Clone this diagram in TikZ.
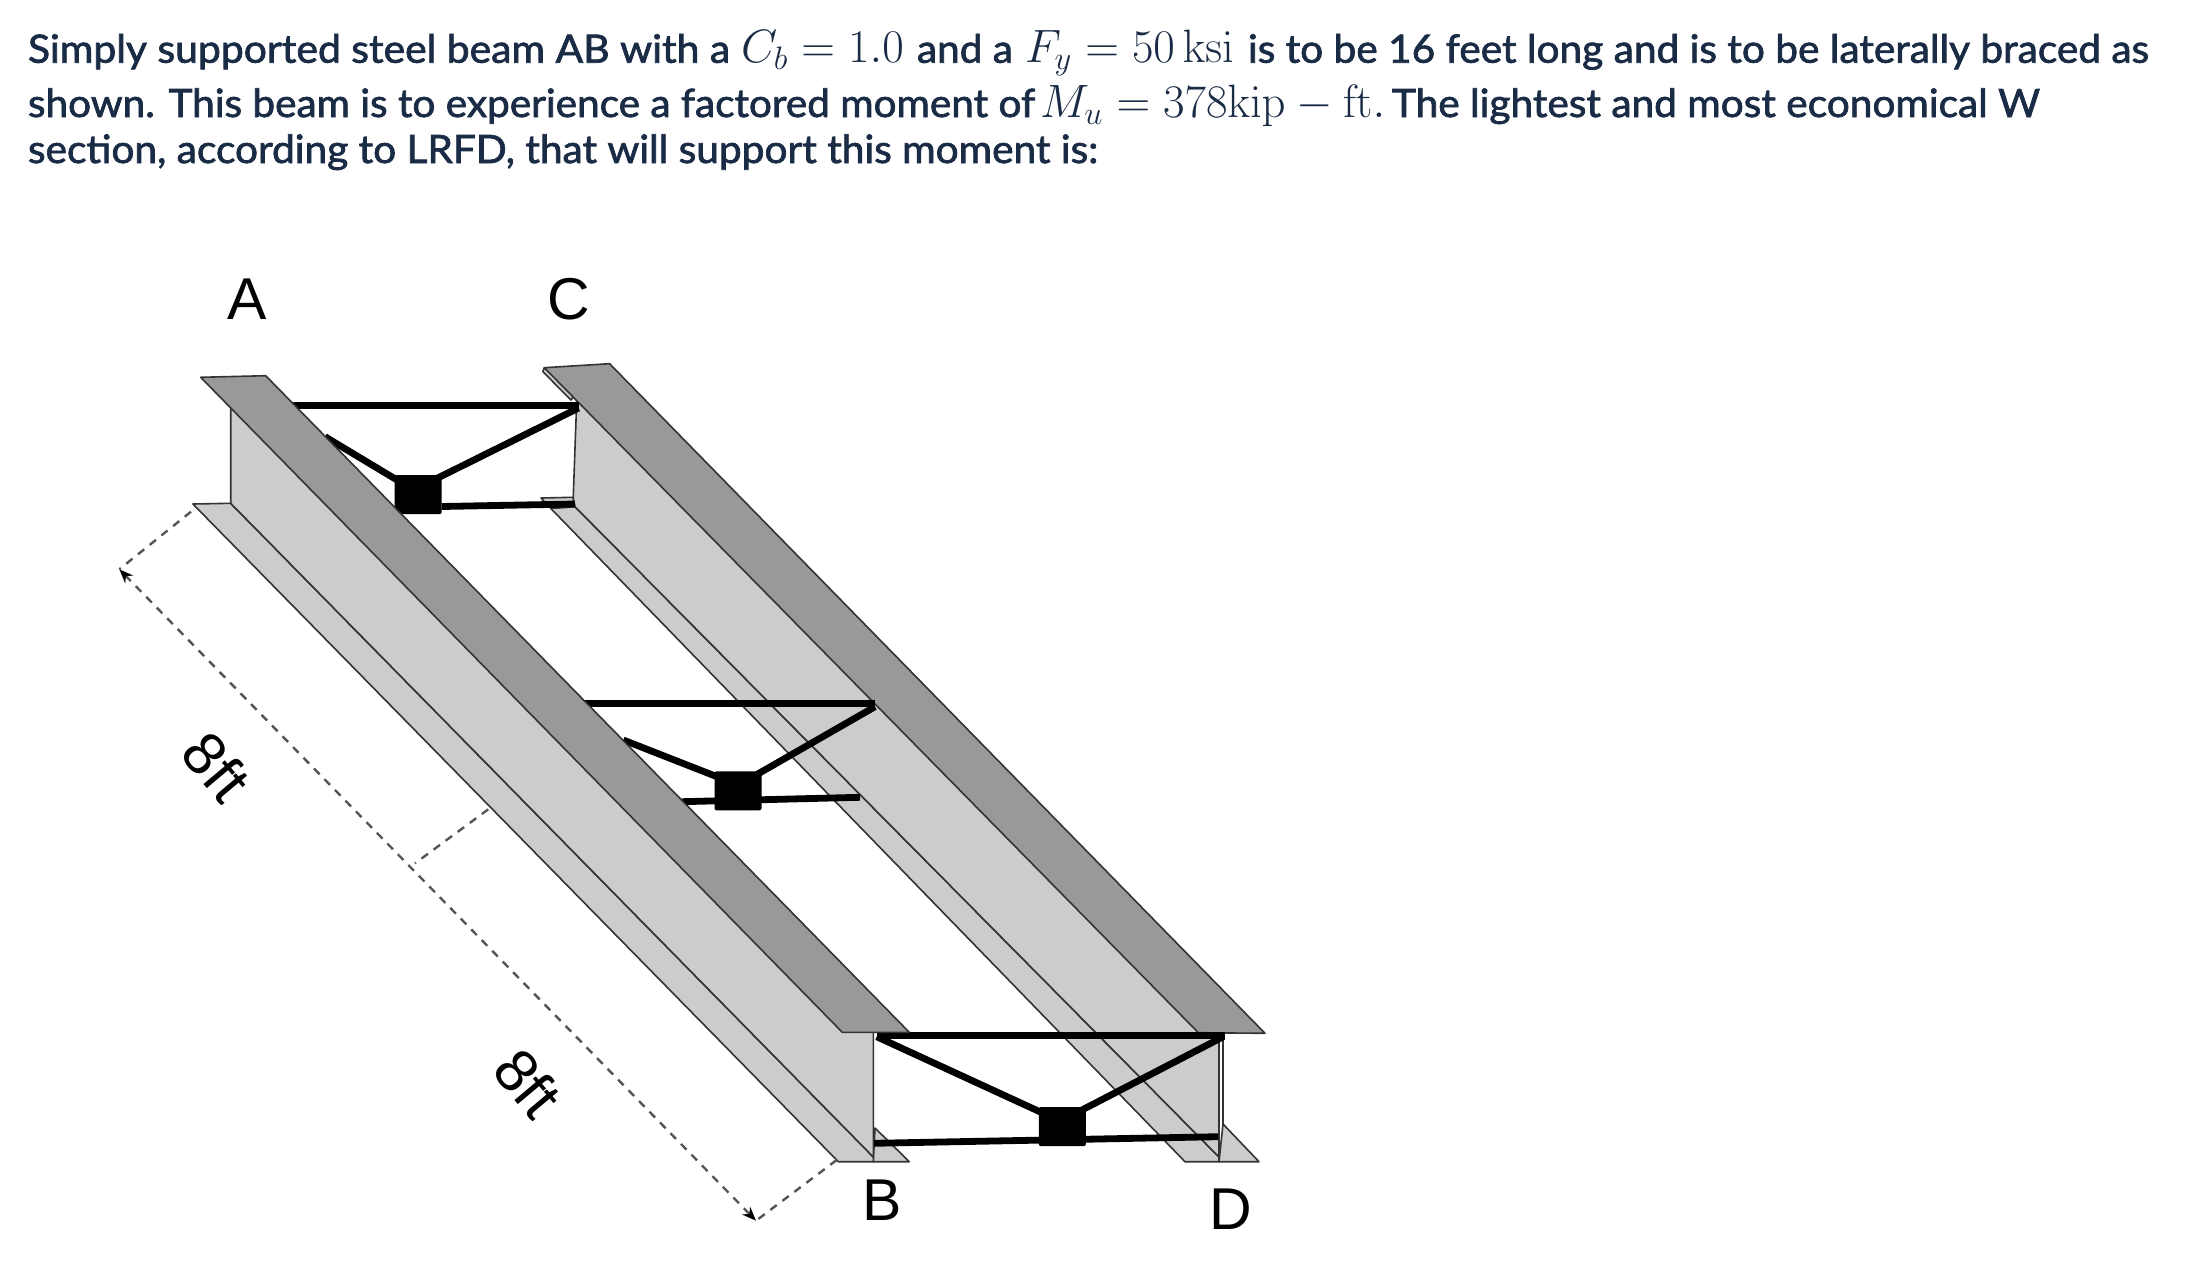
\documentclass[tikz,border=0pt]{standalone}
\usepackage[no-math]{fontspec}
\usepackage{graphicx}
\usetikzlibrary{arrows.meta}
\setmainfont{Lato}[FakeBold=1.8]
\newfontfamily\lblfont{Liberation Sans}
\definecolor{ink}{HTML}{1A2B45}
\definecolor{webgray}{HTML}{CCCCCC}
\definecolor{flangegray}{HTML}{999999}
\definecolor{edgegray}{HTML}{333333}
\definecolor{dimgray}{HTML}{555555}
\newcommand{\fitw}[2]{\resizebox{#1pt}{\height}{#2}}
\newcommand{\mth}[1]{\scalebox{1.128}{$#1$}}
\tikzset{
  txt/.style={anchor=base west,inner sep=0pt,outer sep=0pt,text=ink,font=\fontsize{19.5}{24}\selectfont},
  lbl/.style={anchor=base,inner sep=0pt,outer sep=0pt,text=black,font=\lblfont\fontsize{29.5}{34}\selectfont},
  dimlbl/.style={inner sep=0pt,outer sep=0pt,text=black,font=\lblfont\fontsize{30}{34}\selectfont,rotate=-50},
  webface/.style={fill=webgray,draw=edgegray,line width=0.8pt,line join=round},
  flangeface/.style={fill=flangegray,draw=edgegray,line width=0.8pt,line join=round},
  edgeline/.style={draw=edgegray,line width=0.8pt},
  brace/.style={draw=black,line width=3.4pt},
  blockbox/.style={fill=black,draw=none,rounded corners=1pt,inner sep=0pt,outer sep=0pt,minimum width=23.5pt,minimum height=19.5pt},
  dimline/.style={draw=dimgray,line width=1.2pt,dash pattern=on 4pt off 3.5pt},
  dimarrow/.style={dimline,{Stealth[length=7pt,width=5.5pt,color=black]}-{Stealth[length=7pt,width=5.5pt,color=black]}}
}
\begin{document}
\begin{tikzpicture}[x=0.5pt,y=-0.5pt]
\useasboundingbox (0,0) rectangle (2192,1270);
% --- question text
\node[txt] (t1) at (28,62.7) {\fitw{351}{Simply supported steel beam AB with a}};
\node[txt] (m1) at (741,62.7) {\mth{C_b = 1.0}};
\node[txt] (t2) at (917,62.7) {\fitw{48}{and a}};
\node[txt] (m2) at (1025,62.7) {\mth{F_y = 50\,\mathrm{ksi}}};
\node[txt] (t3) at (1248,62.7) {\fitw{450.5}{is to be 16 feet long and is to be laterally braced as}};
\node[txt] (t4) at (28,117) {\fitw{503.5}{shown. This beam is to experience a factored moment of}};
\node[txt] (m3) at (1040,117) {\mth{M_u = 378\mathrm{kip} - \mathrm{ft}.}};
\node[txt] (t5) at (1392,117) {\fitw{324}{The lightest and most economical W}};
\node[txt] (t6) at (28,163) {\fitw{535}{section, according to LRFD, that will support this moment is:}};
% --- right beam (C-D)
\draw[webface] (1223,1124) -- (1259,1161.7) -- (1219,1161.7) -- cycle;
\draw[edgeline] (1223,1038) -- (1223,1124);
\draw[webface] (550.7,508.3) -- (1185,1161.7) -- (1219,1161.7) -- (1219,1157) -- (575,506.7) -- cycle;
\draw[webface] (541,498) -- (573.2,497.3) -- (575,506.7) -- (550.7,508.3) -- cycle;
\draw[webface] (576.8,398) -- (1198,1030) -- (1219,1030) -- (1219,1157) -- (575,506.7) -- (573.2,498.3) -- cycle;
\draw[edgeline] (1219,1033) -- (1219,1161.7);
\draw[webface] (544.3,367.7) -- (542.9,371.7) -- (571,400) -- (574,396) -- cycle;
\draw[flangeface] (544.3,367.7) -- (609.6,363.7) -- (1265,1033.3) -- (1198.3,1032.7) -- cycle;
% --- back of lower flange of left beam at B
\draw[webface] (875,1128) -- (909.3,1161.7) -- (873.3,1161.7) -- cycle;
% --- bracing at the three sections
\coordinate (b1tl) at (292.9,405.7);
\coordinate (b1tr) at (578.6,405.7);
\coordinate (b1dr) at (578.6,408);
\coordinate (b1dl) at (325,436.7);
\coordinate (b1lr) at (575,504);
\node[blockbox] (b1) at (418.2,494.5) {};
\draw[brace] (b1tl) -- (b1tr);
\draw[brace] (b1dr) -- ([xshift=-3pt,yshift=-2pt]b1.north east);
\draw[brace] (b1dl) -- ([xshift=2pt,yshift=-3pt]b1.north west);
\draw[brace] ([yshift=-6pt]b1.east) -- (b1lr);
\coordinate (b2tl) at (585,703.3);
\coordinate (b2tr) at (875,703.3);
\coordinate (b2dr) at (875,706.7);
\coordinate (b2dl) at (623.3,740);
\coordinate (b2ll) at (681.7,801.7);
\coordinate (b2lr) at (860,797.3);
\node[blockbox] (b2) at (738,790.8) {};
\draw[brace] (b2tl) -- (b2tr);
\draw[brace] (b2dr) -- ([xshift=-3pt,yshift=-2pt]b2.north east);
\draw[brace] (b2dl) -- ([xshift=2pt,yshift=-3pt]b2.north west);
\draw[brace] (b2ll) -- (b2lr);
\coordinate (b3tl) at (876.7,1035.7);
\coordinate (b3tr) at (1225,1035.7);
\coordinate (b3dl) at (876.7,1036.7);
\coordinate (b3dr) at (1223.3,1036.7);
\coordinate (b3ll) at (873.3,1143.3);
\coordinate (b3lr) at (1218.3,1136.7);
\node[blockbox] (b3) at (1062.3,1126.6) {};
\draw[brace] (b3tl) -- (b3tr);
\draw[brace] (b3dr) -- ([xshift=-3pt,yshift=-2pt]b3.north east);
\draw[brace] (b3dl) -- ([xshift=2pt,yshift=-3pt]b3.north west);
\draw[brace] (b3ll) -- (b3lr);
% --- left beam (A-B)
\draw[webface] (192.9,504) -- (230.7,503.3) -- (873.3,1157) -- (873.3,1161.7) -- (838.3,1161.7) -- cycle;
\draw[webface] (230.7,404) -- (842,1029) -- (873.3,1029) -- (873.3,1157) -- (230.7,503.3) -- cycle;
\draw[edgeline] (873.3,1032) -- (873.3,1161.7);
\draw[flangeface] (200.7,377.3) -- (265.7,375.7) -- (909.3,1032.3) -- (842.3,1032.3) -- cycle;
% --- dimension lines
\coordinate (dA) at (119.3,569.3);
\coordinate (dB) at (756,1220.7);
\coordinate (eA) at (191,511.7);
\coordinate (eM) at (488.3,809.3);
\coordinate (dM) at (415,863.3);
\coordinate (eB) at (836.7,1160);
\draw[dimarrow] (dA) -- (dB);
\draw[dimline] (eA) -- (dA);
\draw[dimline] (eM) -- (dM);
\draw[dimline] (eB) -- (dB);
% --- labels
\node[lbl] (lA) at (247,319) {A};
\node[lbl] (lC) at (568.8,319) {C};
\node[lbl] (lB) at (881.7,1220.7) {B};
\node[lbl] (lD) at (1231,1229.3) {D};
\node[dimlbl] (f1) at (216.7,766.7) {8ft};
\node[dimlbl] (f2) at (528,1083) {8ft};
\end{tikzpicture}
\end{document}
